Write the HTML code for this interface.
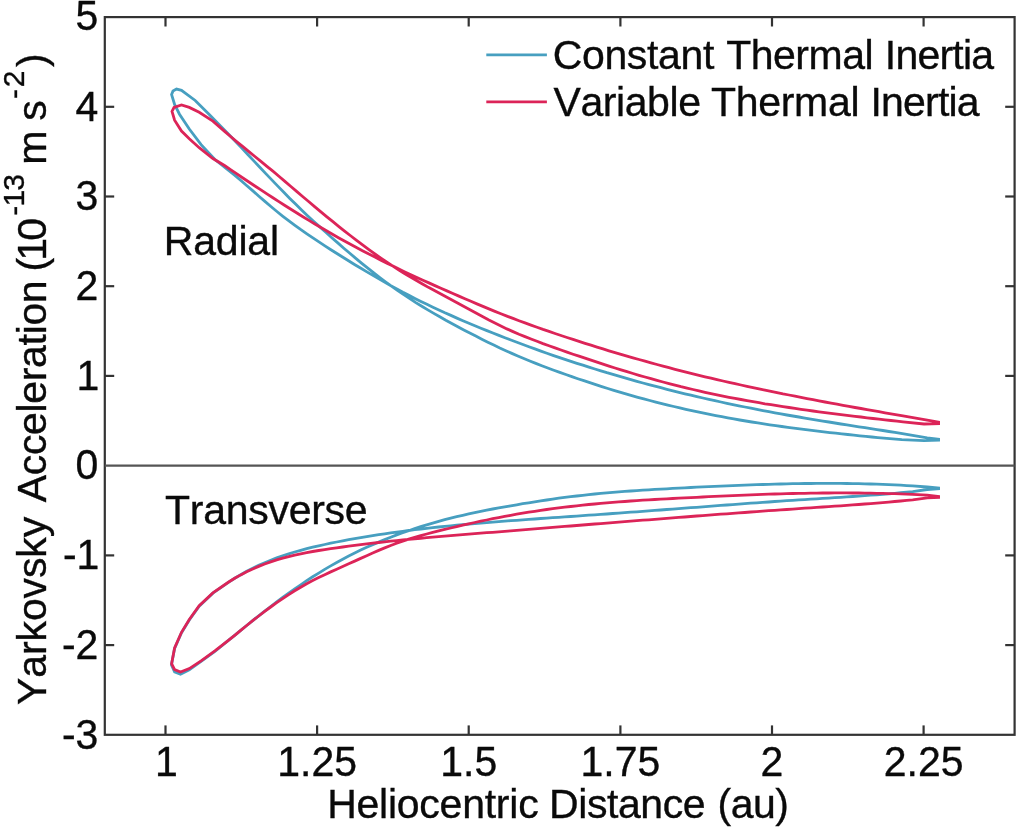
<!DOCTYPE html>
<html lang="en"><head><meta charset="utf-8"><title>Yarkovsky Acceleration vs Heliocentric Distance</title>
<style>
html,body{margin:0;padding:0;background:#fff}
body{width:1017px;height:829px;overflow:hidden}
svg{display:block;filter:blur(.3px)}
text{font-family:"Liberation Sans",Arial,Helvetica,sans-serif;fill:#0a0a0a;stroke:#0a0a0a;stroke-width:.35px;font-kerning:none}
</style></head><body>
<svg width="1017" height="829" viewBox="0 0 1017 829">
<rect width="1017" height="829" fill="#fff"/>
<g fill="none" stroke-width="2.8" stroke-linejoin="miter" stroke-linecap="butt">
<path stroke="#479fc0" d="M171.6,94.6 L173.0,91.0 L176.5,89.1 L181.5,90.3 L195.2,100.5 L209.0,114.2 L229.8,135.5 L235.8,141.8 L241.8,148.1 L247.8,154.5 L253.8,160.9 L259.8,167.3 L265.8,173.6 L271.8,179.9 L277.8,186.1 L283.8,192.3 L289.8,198.4 L295.8,204.3 L301.8,210.2 L307.8,215.9 L313.8,221.5 L319.8,226.9 L325.8,232.3 L331.8,237.7 L337.8,242.9 L343.8,248.2 L349.8,253.3 L355.8,258.3 L361.8,263.3 L367.8,268.1 L373.8,272.8 L379.8,277.5 L385.8,282.0 L391.8,286.4 L397.8,290.6 L403.8,294.7 L409.8,298.7 L415.8,302.6 L421.8,306.3 L427.8,309.9 L433.8,313.4 L439.8,316.8 L445.8,320.2 L451.8,323.4 L457.8,326.7 L463.8,329.9 L469.8,333.0 L475.8,336.1 L481.8,339.2 L487.8,342.2 L493.8,345.1 L499.8,348.0 L505.8,350.7 L511.8,353.4 L517.8,356.0 L523.8,358.5 L529.8,361.0 L535.8,363.4 L541.8,365.7 L547.8,368.0 L553.8,370.2 L559.8,372.4 L565.8,374.5 L571.8,376.6 L577.8,378.7 L583.8,380.7 L589.8,382.7 L595.8,384.7 L601.8,386.6 L607.8,388.5 L613.8,390.3 L619.8,392.1 L625.8,393.9 L631.8,395.6 L637.8,397.3 L643.8,398.9 L649.8,400.5 L655.8,402.1 L661.8,403.6 L667.8,405.1 L673.8,406.5 L679.8,407.9 L685.8,409.3 L691.8,410.6 L697.8,411.9 L703.8,413.2 L709.8,414.4 L715.8,415.6 L721.8,416.7 L727.8,417.8 L733.8,418.9 L739.8,420.0 L745.8,421.0 L751.8,422.0 L757.8,422.9 L763.8,423.9 L769.8,424.8 L775.8,425.6 L781.8,426.5 L787.8,427.3 L793.8,428.1 L799.8,428.9 L805.8,429.7 L811.8,430.4 L817.8,431.2 L823.8,431.9 L829.8,432.6 L835.8,433.2 L841.8,433.9 L847.8,434.5 L853.8,435.2 L859.8,435.8 L865.8,436.4 L871.8,437.0 L877.8,437.6 L883.8,438.2 L889.8,438.7 L895.8,439.2 L901.8,439.7 L924.0,440.7 L938.6,440.2 L938.6,439.2 L927.2,437.8 L900.9,433.4 L894.9,432.4 L888.9,431.5 L882.9,430.5 L876.9,429.6 L870.9,428.7 L864.9,427.7 L858.9,426.8 L852.9,425.9 L846.9,424.9 L840.9,424.0 L834.9,423.0 L828.9,422.0 L822.9,421.1 L816.9,420.1 L810.9,419.1 L804.9,418.1 L798.9,417.0 L792.9,416.0 L786.9,415.0 L780.9,413.9 L774.9,412.8 L768.9,411.7 L762.9,410.6 L756.9,409.4 L750.9,408.2 L744.9,407.0 L738.9,405.8 L732.9,404.6 L726.9,403.3 L720.9,402.0 L714.9,400.7 L708.9,399.4 L702.9,398.0 L696.9,396.6 L690.9,395.2 L684.9,393.8 L678.9,392.3 L672.9,390.8 L666.9,389.3 L660.9,387.7 L654.9,386.2 L648.9,384.6 L642.9,383.0 L636.9,381.3 L630.9,379.6 L624.9,377.9 L618.9,376.2 L612.9,374.4 L606.9,372.7 L600.9,370.8 L594.9,369.0 L588.9,367.1 L582.9,365.2 L576.9,363.3 L570.9,361.3 L564.9,359.3 L558.9,357.3 L552.9,355.3 L546.9,353.2 L540.9,351.1 L534.9,348.9 L528.9,346.7 L522.9,344.5 L516.9,342.3 L510.9,340.0 L504.9,337.7 L498.9,335.4 L492.9,333.0 L486.9,330.6 L480.9,328.2 L474.9,325.7 L468.9,323.2 L462.9,320.7 L456.9,318.1 L450.9,315.4 L444.9,312.8 L438.9,310.0 L432.9,307.2 L426.9,304.3 L420.9,301.4 L414.9,298.4 L408.9,295.3 L402.9,292.2 L396.9,288.9 L390.9,285.7 L384.9,282.3 L378.9,278.9 L372.9,275.4 L366.9,271.9 L360.9,268.3 L354.9,264.7 L348.9,261.0 L342.9,257.3 L336.9,253.5 L330.9,249.7 L324.9,245.8 L318.9,241.9 L312.9,237.9 L306.9,233.8 L300.9,229.7 L294.9,225.3 L288.9,220.9 L282.9,216.3 L276.9,211.5 L270.9,206.5 L264.9,201.4 L258.9,196.2 L252.9,190.9 L246.9,185.7 L240.9,180.5 L234.9,175.4 L214.9,159.5 L201.1,144.7 L189.3,129.0 L179.5,114.2 L174.6,104.4Z"/>
<path stroke="#479fc0" d="M171.4,664.9 L174.6,648.5 L181.5,632.8 L189.3,620.0 L199.2,606.2 L212.9,593.2 L228.7,582.1 L234.7,578.3 L240.7,574.7 L246.7,571.3 L252.7,568.2 L258.7,565.3 L264.7,562.7 L270.7,560.2 L276.7,557.9 L282.7,555.8 L288.7,553.8 L294.7,552.0 L300.7,550.3 L306.7,548.7 L312.7,547.2 L318.7,545.8 L324.7,544.5 L330.7,543.2 L336.7,542.0 L342.7,540.8 L348.7,539.7 L354.7,538.6 L360.7,537.6 L366.7,536.6 L372.7,535.6 L378.7,534.7 L384.7,533.8 L390.7,532.9 L396.7,532.1 L402.7,531.3 L408.7,530.5 L414.7,529.7 L420.7,529.0 L426.7,528.3 L432.7,527.7 L438.7,527.0 L444.7,526.4 L450.7,525.8 L456.7,525.2 L462.7,524.7 L468.7,524.1 L474.7,523.6 L480.7,523.1 L486.7,522.6 L492.7,522.1 L498.7,521.6 L504.7,521.2 L510.7,520.7 L516.7,520.3 L522.7,519.8 L528.7,519.4 L534.7,519.0 L540.7,518.5 L546.7,518.1 L552.7,517.7 L558.7,517.3 L564.7,516.9 L570.7,516.5 L576.7,516.1 L582.7,515.6 L588.7,515.2 L594.7,514.8 L600.7,514.4 L606.7,514.0 L612.7,513.5 L618.7,513.1 L624.7,512.7 L630.7,512.2 L636.7,511.8 L642.7,511.3 L648.7,510.9 L654.7,510.4 L660.7,510.0 L666.7,509.5 L672.7,509.1 L678.7,508.6 L684.7,508.2 L690.7,507.7 L696.7,507.3 L702.7,506.8 L708.7,506.3 L714.7,505.9 L720.7,505.4 L726.7,505.0 L732.7,504.6 L738.7,504.1 L744.7,503.7 L750.7,503.2 L756.7,502.8 L762.7,502.4 L768.7,502.0 L774.7,501.5 L780.7,501.1 L786.7,500.7 L792.7,500.3 L798.7,499.9 L804.7,499.6 L810.7,499.2 L816.7,498.8 L822.7,498.4 L828.7,498.1 L834.7,497.7 L840.7,497.3 L846.7,496.9 L852.7,496.5 L858.7,496.1 L864.7,495.7 L870.7,495.2 L876.7,494.8 L882.7,494.3 L888.7,493.8 L894.7,493.3 L900.7,492.7 L906.7,492.2 L912.7,491.6 L927.2,489.5 L938.6,488.8 L938.6,488.0 L927.2,487.0 L912.7,485.9 L906.7,485.6 L900.7,485.2 L894.7,484.9 L888.7,484.7 L882.7,484.4 L876.7,484.2 L870.7,484.0 L864.7,483.8 L858.7,483.7 L852.7,483.6 L846.7,483.5 L840.7,483.4 L834.7,483.4 L828.7,483.4 L822.7,483.4 L816.7,483.4 L810.7,483.5 L804.7,483.5 L798.7,483.6 L792.7,483.7 L786.7,483.9 L780.7,484.0 L774.7,484.1 L768.7,484.3 L762.7,484.5 L756.7,484.7 L750.7,484.9 L744.7,485.1 L738.7,485.4 L732.7,485.6 L726.7,485.9 L720.7,486.1 L714.7,486.4 L708.7,486.7 L702.7,486.9 L696.7,487.2 L690.7,487.5 L684.7,487.8 L678.7,488.1 L672.7,488.4 L666.7,488.8 L660.7,489.1 L654.7,489.4 L648.7,489.8 L642.7,490.2 L636.7,490.6 L630.7,491.0 L624.7,491.4 L618.7,491.9 L612.7,492.4 L606.7,492.9 L600.7,493.4 L594.7,494.0 L588.7,494.6 L582.7,495.3 L576.7,496.0 L570.7,496.7 L564.7,497.4 L558.7,498.2 L552.7,499.1 L546.7,500.0 L540.7,500.9 L534.7,501.8 L528.7,502.8 L522.7,503.7 L516.7,504.8 L510.7,505.8 L504.7,506.9 L498.7,507.9 L492.7,509.0 L486.7,510.2 L480.7,511.4 L474.7,512.6 L468.7,513.9 L462.7,515.3 L456.7,516.7 L450.7,518.2 L444.7,519.7 L438.7,521.4 L432.7,523.1 L426.7,524.8 L420.7,526.7 L414.7,528.6 L408.7,530.7 L402.7,532.8 L396.7,534.9 L390.7,537.2 L384.7,539.6 L378.7,542.1 L372.7,544.7 L366.7,547.3 L360.7,550.1 L354.7,553.0 L348.7,556.1 L342.7,559.2 L336.7,562.5 L330.7,565.9 L324.7,569.4 L318.7,573.1 L312.7,576.8 L306.7,580.7 L300.7,584.8 L294.7,588.9 L288.7,593.1 L282.7,597.5 L276.7,601.9 L270.7,606.5 L264.7,611.1 L258.7,615.8 L252.7,620.6 L246.7,625.5 L240.7,630.4 L234.7,635.3 L228.7,640.2 L214.9,651.5 L201.1,661.4 L189.3,669.9 L180.5,674.2 L174.6,671.8Z"/>
<path stroke="#dc2458" d="M172.0,111.3 L174.0,107.5 L181.5,105.0 L189.3,107.4 L199.2,112.3 L212.9,121.1 L224.9,131.6 L230.9,136.8 L236.9,141.8 L242.9,146.7 L248.9,151.6 L254.9,156.5 L260.9,161.3 L266.9,166.3 L272.9,171.2 L278.9,176.3 L284.9,181.4 L290.9,186.5 L296.9,191.6 L302.9,196.7 L308.9,201.8 L314.9,206.8 L320.9,211.8 L326.9,216.8 L332.9,221.7 L338.9,226.6 L344.9,231.3 L350.9,236.0 L356.9,240.6 L362.9,245.1 L368.9,249.6 L374.9,253.9 L380.9,258.1 L386.9,262.2 L392.9,266.2 L398.9,270.0 L404.9,273.7 L410.9,277.3 L416.9,280.8 L422.9,284.2 L428.9,287.6 L434.9,290.8 L440.9,294.1 L446.9,297.3 L452.9,300.5 L458.9,303.8 L464.9,307.0 L470.9,310.3 L476.9,313.6 L482.9,316.8 L488.9,320.0 L494.9,323.0 L500.9,326.0 L506.9,328.9 L513.0,331.6 L519.0,334.2 L525.0,336.6 L531.0,339.0 L537.0,341.3 L543.0,343.6 L549.0,345.7 L555.0,347.9 L561.0,350.0 L567.0,352.1 L573.0,354.2 L579.0,356.2 L585.0,358.2 L591.0,360.2 L597.0,362.2 L603.0,364.2 L609.0,366.1 L615.0,368.0 L621.0,369.9 L627.0,371.7 L633.0,373.5 L639.0,375.3 L645.0,377.0 L651.0,378.7 L657.0,380.4 L663.0,382.0 L669.0,383.6 L675.0,385.1 L681.0,386.7 L687.0,388.1 L693.0,389.5 L699.0,390.9 L705.0,392.3 L711.0,393.6 L717.0,394.8 L723.0,396.1 L729.0,397.3 L735.0,398.4 L741.0,399.5 L747.0,400.6 L753.0,401.7 L759.0,402.7 L765.0,403.8 L771.0,404.7 L777.0,405.7 L783.0,406.6 L789.0,407.5 L795.0,408.4 L801.0,409.3 L807.0,410.1 L813.0,411.0 L819.0,411.8 L825.0,412.6 L831.0,413.3 L837.0,414.1 L843.0,414.9 L849.0,415.6 L855.0,416.3 L861.0,417.0 L867.0,417.8 L873.0,418.5 L879.0,419.2 L885.0,419.9 L891.0,420.5 L897.0,421.2 L903.0,421.8 L924.0,424.0 L938.6,423.7 L938.6,422.2 L927.2,420.1 L903.0,415.9 L897.0,414.9 L891.0,413.8 L885.0,412.8 L879.0,411.7 L873.0,410.7 L867.0,409.6 L861.0,408.5 L855.0,407.5 L849.0,406.4 L843.0,405.3 L837.0,404.2 L831.0,403.1 L825.0,402.0 L819.0,400.8 L813.0,399.7 L807.0,398.6 L801.0,397.4 L795.0,396.2 L789.0,395.0 L783.0,393.9 L777.0,392.6 L771.0,391.4 L765.0,390.2 L759.0,388.9 L753.0,387.6 L747.0,386.3 L741.0,385.0 L735.0,383.7 L729.0,382.4 L723.0,381.0 L717.0,379.6 L711.0,378.2 L705.0,376.8 L699.0,375.3 L693.0,373.9 L687.0,372.4 L681.0,370.8 L675.0,369.3 L669.0,367.7 L663.0,366.1 L657.0,364.5 L651.0,362.9 L645.0,361.2 L639.0,359.5 L633.0,357.8 L627.0,356.1 L621.0,354.3 L615.0,352.6 L609.0,350.8 L603.0,348.9 L597.0,347.1 L591.0,345.2 L585.0,343.3 L579.0,341.4 L573.0,339.4 L567.0,337.5 L561.0,335.5 L555.0,333.5 L549.0,331.4 L543.0,329.4 L537.0,327.2 L531.0,325.1 L525.0,322.9 L519.0,320.7 L513.0,318.4 L506.9,316.1 L500.9,313.8 L494.9,311.4 L488.9,308.9 L482.9,306.4 L476.9,303.9 L470.9,301.3 L464.9,298.7 L458.9,296.1 L452.9,293.5 L446.9,290.9 L440.9,288.3 L434.9,285.6 L428.9,282.9 L422.9,280.2 L416.9,277.5 L410.9,274.7 L404.9,271.9 L398.9,269.0 L392.9,266.1 L386.9,263.2 L380.9,260.2 L374.9,257.1 L368.9,254.1 L362.9,250.9 L356.9,247.7 L350.9,244.5 L344.9,241.2 L338.9,237.9 L332.9,234.5 L326.9,231.0 L320.9,227.5 L314.9,224.0 L308.9,220.4 L302.9,216.7 L296.9,213.0 L290.9,209.3 L284.9,205.5 L278.9,201.6 L272.9,197.8 L266.9,193.9 L260.9,189.9 L254.9,186.0 L248.9,182.0 L242.9,178.0 L236.9,173.9 L230.9,169.9 L224.9,165.8 L212.9,158.5 L199.2,147.7 L189.3,138.8 L181.5,131.0 L174.6,120.2Z"/>
<path stroke="#dc2458" d="M171.6,663.7 L174.6,648.0 L181.5,632.3 L189.3,619.5 L199.2,605.7 L212.9,592.9 L228.7,582.0 L234.7,578.3 L240.7,574.9 L246.7,571.8 L252.7,569.0 L258.7,566.4 L264.7,564.0 L270.7,561.9 L276.7,559.9 L282.7,558.2 L288.7,556.6 L294.7,555.1 L300.7,553.8 L306.7,552.6 L312.7,551.5 L318.7,550.5 L324.7,549.6 L330.7,548.7 L336.7,547.8 L342.7,547.0 L348.7,546.2 L354.7,545.4 L360.7,544.6 L366.7,543.9 L372.7,543.2 L378.7,542.5 L384.7,541.9 L390.7,541.2 L396.7,540.6 L402.7,540.0 L408.7,539.4 L414.7,538.8 L420.7,538.3 L426.7,537.7 L432.7,537.2 L438.7,536.7 L444.7,536.2 L450.7,535.7 L456.7,535.2 L462.7,534.7 L468.7,534.2 L474.7,533.7 L480.7,533.2 L486.7,532.7 L492.7,532.3 L498.7,531.8 L504.7,531.3 L510.7,530.8 L516.7,530.3 L522.7,529.8 L528.7,529.4 L534.7,528.9 L540.7,528.4 L546.7,527.9 L552.7,527.4 L558.7,526.9 L564.7,526.4 L570.7,526.0 L576.7,525.5 L582.7,525.0 L588.7,524.5 L594.7,524.0 L600.7,523.6 L606.7,523.1 L612.7,522.6 L618.7,522.1 L624.7,521.6 L630.7,521.2 L636.7,520.7 L642.7,520.2 L648.7,519.8 L654.7,519.3 L660.7,518.8 L666.7,518.4 L672.7,517.9 L678.7,517.4 L684.7,517.0 L690.7,516.5 L696.7,516.0 L702.7,515.6 L708.7,515.1 L714.7,514.7 L720.7,514.2 L726.7,513.8 L732.7,513.3 L738.7,512.9 L744.7,512.5 L750.7,512.0 L756.7,511.6 L762.7,511.2 L768.7,510.7 L774.7,510.3 L780.7,509.9 L786.7,509.5 L792.7,509.1 L798.7,508.7 L804.7,508.2 L810.7,507.8 L816.7,507.4 L822.7,507.0 L828.7,506.6 L834.7,506.2 L840.7,505.8 L846.7,505.4 L852.7,504.9 L858.7,504.5 L864.7,504.0 L870.7,503.6 L876.7,503.1 L882.7,502.6 L888.7,502.1 L894.7,501.5 L900.7,501.0 L906.7,500.4 L912.7,499.8 L927.2,497.8 L938.6,497.3 L938.6,496.5 L927.2,495.2 L912.7,494.4 L906.7,494.2 L900.7,493.9 L894.7,493.7 L888.7,493.6 L882.7,493.4 L876.7,493.3 L870.7,493.2 L864.7,493.1 L858.7,493.0 L852.7,493.0 L846.7,492.9 L840.7,492.9 L834.7,492.9 L828.7,493.0 L822.7,493.0 L816.7,493.1 L810.7,493.2 L804.7,493.3 L798.7,493.4 L792.7,493.5 L786.7,493.7 L780.7,493.8 L774.7,494.0 L768.7,494.2 L762.7,494.4 L756.7,494.6 L750.7,494.8 L744.7,495.1 L738.7,495.3 L732.7,495.6 L726.7,495.8 L720.7,496.1 L714.7,496.4 L708.7,496.7 L702.7,497.0 L696.7,497.3 L690.7,497.6 L684.7,497.9 L678.7,498.2 L672.7,498.5 L666.7,498.8 L660.7,499.2 L654.7,499.5 L648.7,499.9 L642.7,500.2 L636.7,500.6 L630.7,501.0 L624.7,501.5 L618.7,501.9 L612.7,502.4 L606.7,502.9 L600.7,503.4 L594.7,504.0 L588.7,504.5 L582.7,505.2 L576.7,505.8 L570.7,506.5 L564.7,507.2 L558.7,507.9 L552.7,508.7 L546.7,509.5 L540.7,510.4 L534.7,511.3 L528.7,512.2 L522.7,513.2 L516.7,514.2 L510.7,515.3 L504.7,516.4 L498.7,517.6 L492.7,518.7 L486.7,520.0 L480.7,521.2 L474.7,522.5 L468.7,523.8 L462.7,525.2 L456.7,526.6 L450.7,528.0 L444.7,529.4 L438.7,530.9 L432.7,532.4 L426.7,534.0 L420.7,535.6 L414.7,537.4 L408.7,539.2 L402.7,541.2 L396.7,543.3 L390.7,545.5 L384.7,547.9 L378.7,550.4 L372.7,553.0 L366.7,555.7 L360.7,558.4 L354.7,561.1 L348.7,563.8 L342.7,566.5 L336.7,569.2 L330.7,571.9 L324.7,574.7 L318.7,577.6 L312.7,580.6 L306.7,583.8 L300.7,587.2 L294.7,590.8 L288.7,594.6 L282.7,598.6 L276.7,602.7 L270.7,607.0 L264.7,611.4 L258.7,616.0 L252.7,620.7 L246.7,625.5 L240.7,630.4 L234.7,635.3 L228.7,640.2 L214.9,650.9 L201.1,660.8 L189.3,668.6 L180.5,672.0 L174.6,669.6Z"/>
</g>
<g stroke="#333" stroke-width="2.2" fill="none">
<rect x="104.8" y="17.1" width="909.8" height="717.7"/>
<line x1="104.8" y1="465.7" x2="1014.6" y2="465.7" stroke="#555"/>
<line x1="165.5" y1="734.8" x2="165.5" y2="725.4"/>
<line x1="165.5" y1="17.1" x2="165.5" y2="26.5"/>
<line x1="317.1" y1="734.8" x2="317.1" y2="725.4"/>
<line x1="317.1" y1="17.1" x2="317.1" y2="26.5"/>
<line x1="468.7" y1="734.8" x2="468.7" y2="725.4"/>
<line x1="468.7" y1="17.1" x2="468.7" y2="26.5"/>
<line x1="620.4" y1="734.8" x2="620.4" y2="725.4"/>
<line x1="620.4" y1="17.1" x2="620.4" y2="26.5"/>
<line x1="772.0" y1="734.8" x2="772.0" y2="725.4"/>
<line x1="772.0" y1="17.1" x2="772.0" y2="26.5"/>
<line x1="923.6" y1="734.8" x2="923.6" y2="725.4"/>
<line x1="923.6" y1="17.1" x2="923.6" y2="26.5"/>
<line x1="104.8" y1="106.8" x2="114.2" y2="106.8"/>
<line x1="1014.6" y1="106.8" x2="1005.2" y2="106.8"/>
<line x1="104.8" y1="196.5" x2="114.2" y2="196.5"/>
<line x1="1014.6" y1="196.5" x2="1005.2" y2="196.5"/>
<line x1="104.8" y1="286.2" x2="114.2" y2="286.2"/>
<line x1="1014.6" y1="286.2" x2="1005.2" y2="286.2"/>
<line x1="104.8" y1="375.9" x2="114.2" y2="375.9"/>
<line x1="1014.6" y1="375.9" x2="1005.2" y2="375.9"/>
<line x1="104.8" y1="555.4" x2="114.2" y2="555.4"/>
<line x1="1014.6" y1="555.4" x2="1005.2" y2="555.4"/>
<line x1="104.8" y1="645.1" x2="114.2" y2="645.1"/>
<line x1="1014.6" y1="645.1" x2="1005.2" y2="645.1"/>
</g>
<text font-size="41" text-anchor="end" transform="translate(98.4,30.2) scale(1,1.04)">5</text>
<text font-size="41" text-anchor="end" transform="translate(98.4,120.5) scale(1,1.04)">4</text>
<text font-size="41" text-anchor="end" transform="translate(98.4,210.2) scale(1,1.04)">3</text>
<text font-size="41" text-anchor="end" transform="translate(98.4,299.9) scale(1,1.04)">2</text>
<text font-size="41" text-anchor="end" transform="translate(99.4,389.6) scale(1,1.04)">1</text>
<text font-size="41" text-anchor="end" transform="translate(98.4,479.4) scale(1,1.04)">0</text>
<text font-size="41" text-anchor="end" transform="translate(99.4,569.1) scale(1,1.04)">-1</text>
<text font-size="41" text-anchor="end" transform="translate(98.4,658.8) scale(1,1.04)">-2</text>
<text font-size="41" text-anchor="end" transform="translate(98.4,748.5) scale(1,1.04)">-3</text>
<text font-size="41" text-anchor="middle" transform="translate(166.5,776.3) scale(1,1.04)">1</text>
<text font-size="41" text-anchor="middle" transform="translate(317.1,776.3) scale(1,1.04)">1.25</text>
<text font-size="41" text-anchor="middle" transform="translate(468.7,776.3) scale(1,1.04)">1.5</text>
<text font-size="41" text-anchor="middle" transform="translate(620.4,776.3) scale(1,1.04)">1.75</text>
<text font-size="41" text-anchor="middle" transform="translate(772.0,776.3) scale(1,1.04)">2</text>
<text font-size="41" text-anchor="middle" transform="translate(923.6,776.3) scale(1,1.04)">2.25</text>
<text font-size="41" y="818.2"><tspan x="327.2" letter-spacing="-0.25">Heliocentric</tspan> <tspan x="549.1" letter-spacing="-0.43">Distance</tspan> <tspan x="717.5" letter-spacing="-0.48">(au)</tspan></text>
<text font-size="41" transform="translate(45.7,704.4) rotate(-90)" y="0"><tspan x="-0.5" letter-spacing="-0.13">Yarkovsky</tspan> <tspan x="202.2" letter-spacing="-0.34">Acceleration</tspan> <tspan x="432.8" letter-spacing="-2.86">(10</tspan><tspan x="488.6" letter-spacing="-0.80" font-size="30" dy="-21.6">-13</tspan> <tspan x="539.7" dy="21.6">m</tspan> <tspan x="583.6">s</tspan><tspan x="605.3" letter-spacing="1.97" font-size="30" dy="-21.6">-2</tspan><tspan x="637.5" dy="21.6">)</tspan></text>
<text font-size="41" y="255"><tspan x="163.8" letter-spacing="-0.19">Radial</tspan></text>
<text font-size="41" y="524.4"><tspan x="165.1" letter-spacing="-0.28">Transverse</tspan></text>
<g stroke-width="2.8">
<line x1="486.3" y1="54.8" x2="546.9" y2="54.8" stroke="#479fc0"/>
<line x1="486.3" y1="101.9" x2="546.9" y2="101.9" stroke="#dc2458"/>
</g>
<text font-size="41" y="68.6"><tspan x="552.7" letter-spacing="-0.36">Constant</tspan> <tspan x="726.2" letter-spacing="-0.50">Thermal</tspan> <tspan x="884.8" letter-spacing="-0.79">Inertia</tspan></text>
<text font-size="41" y="115.8"><tspan x="553.5" letter-spacing="-0.42">Variable</tspan> <tspan x="710.9" letter-spacing="-0.28">Thermal</tspan> <tspan x="870.4" letter-spacing="-0.79">Inertia</tspan></text>
</svg></body></html>
